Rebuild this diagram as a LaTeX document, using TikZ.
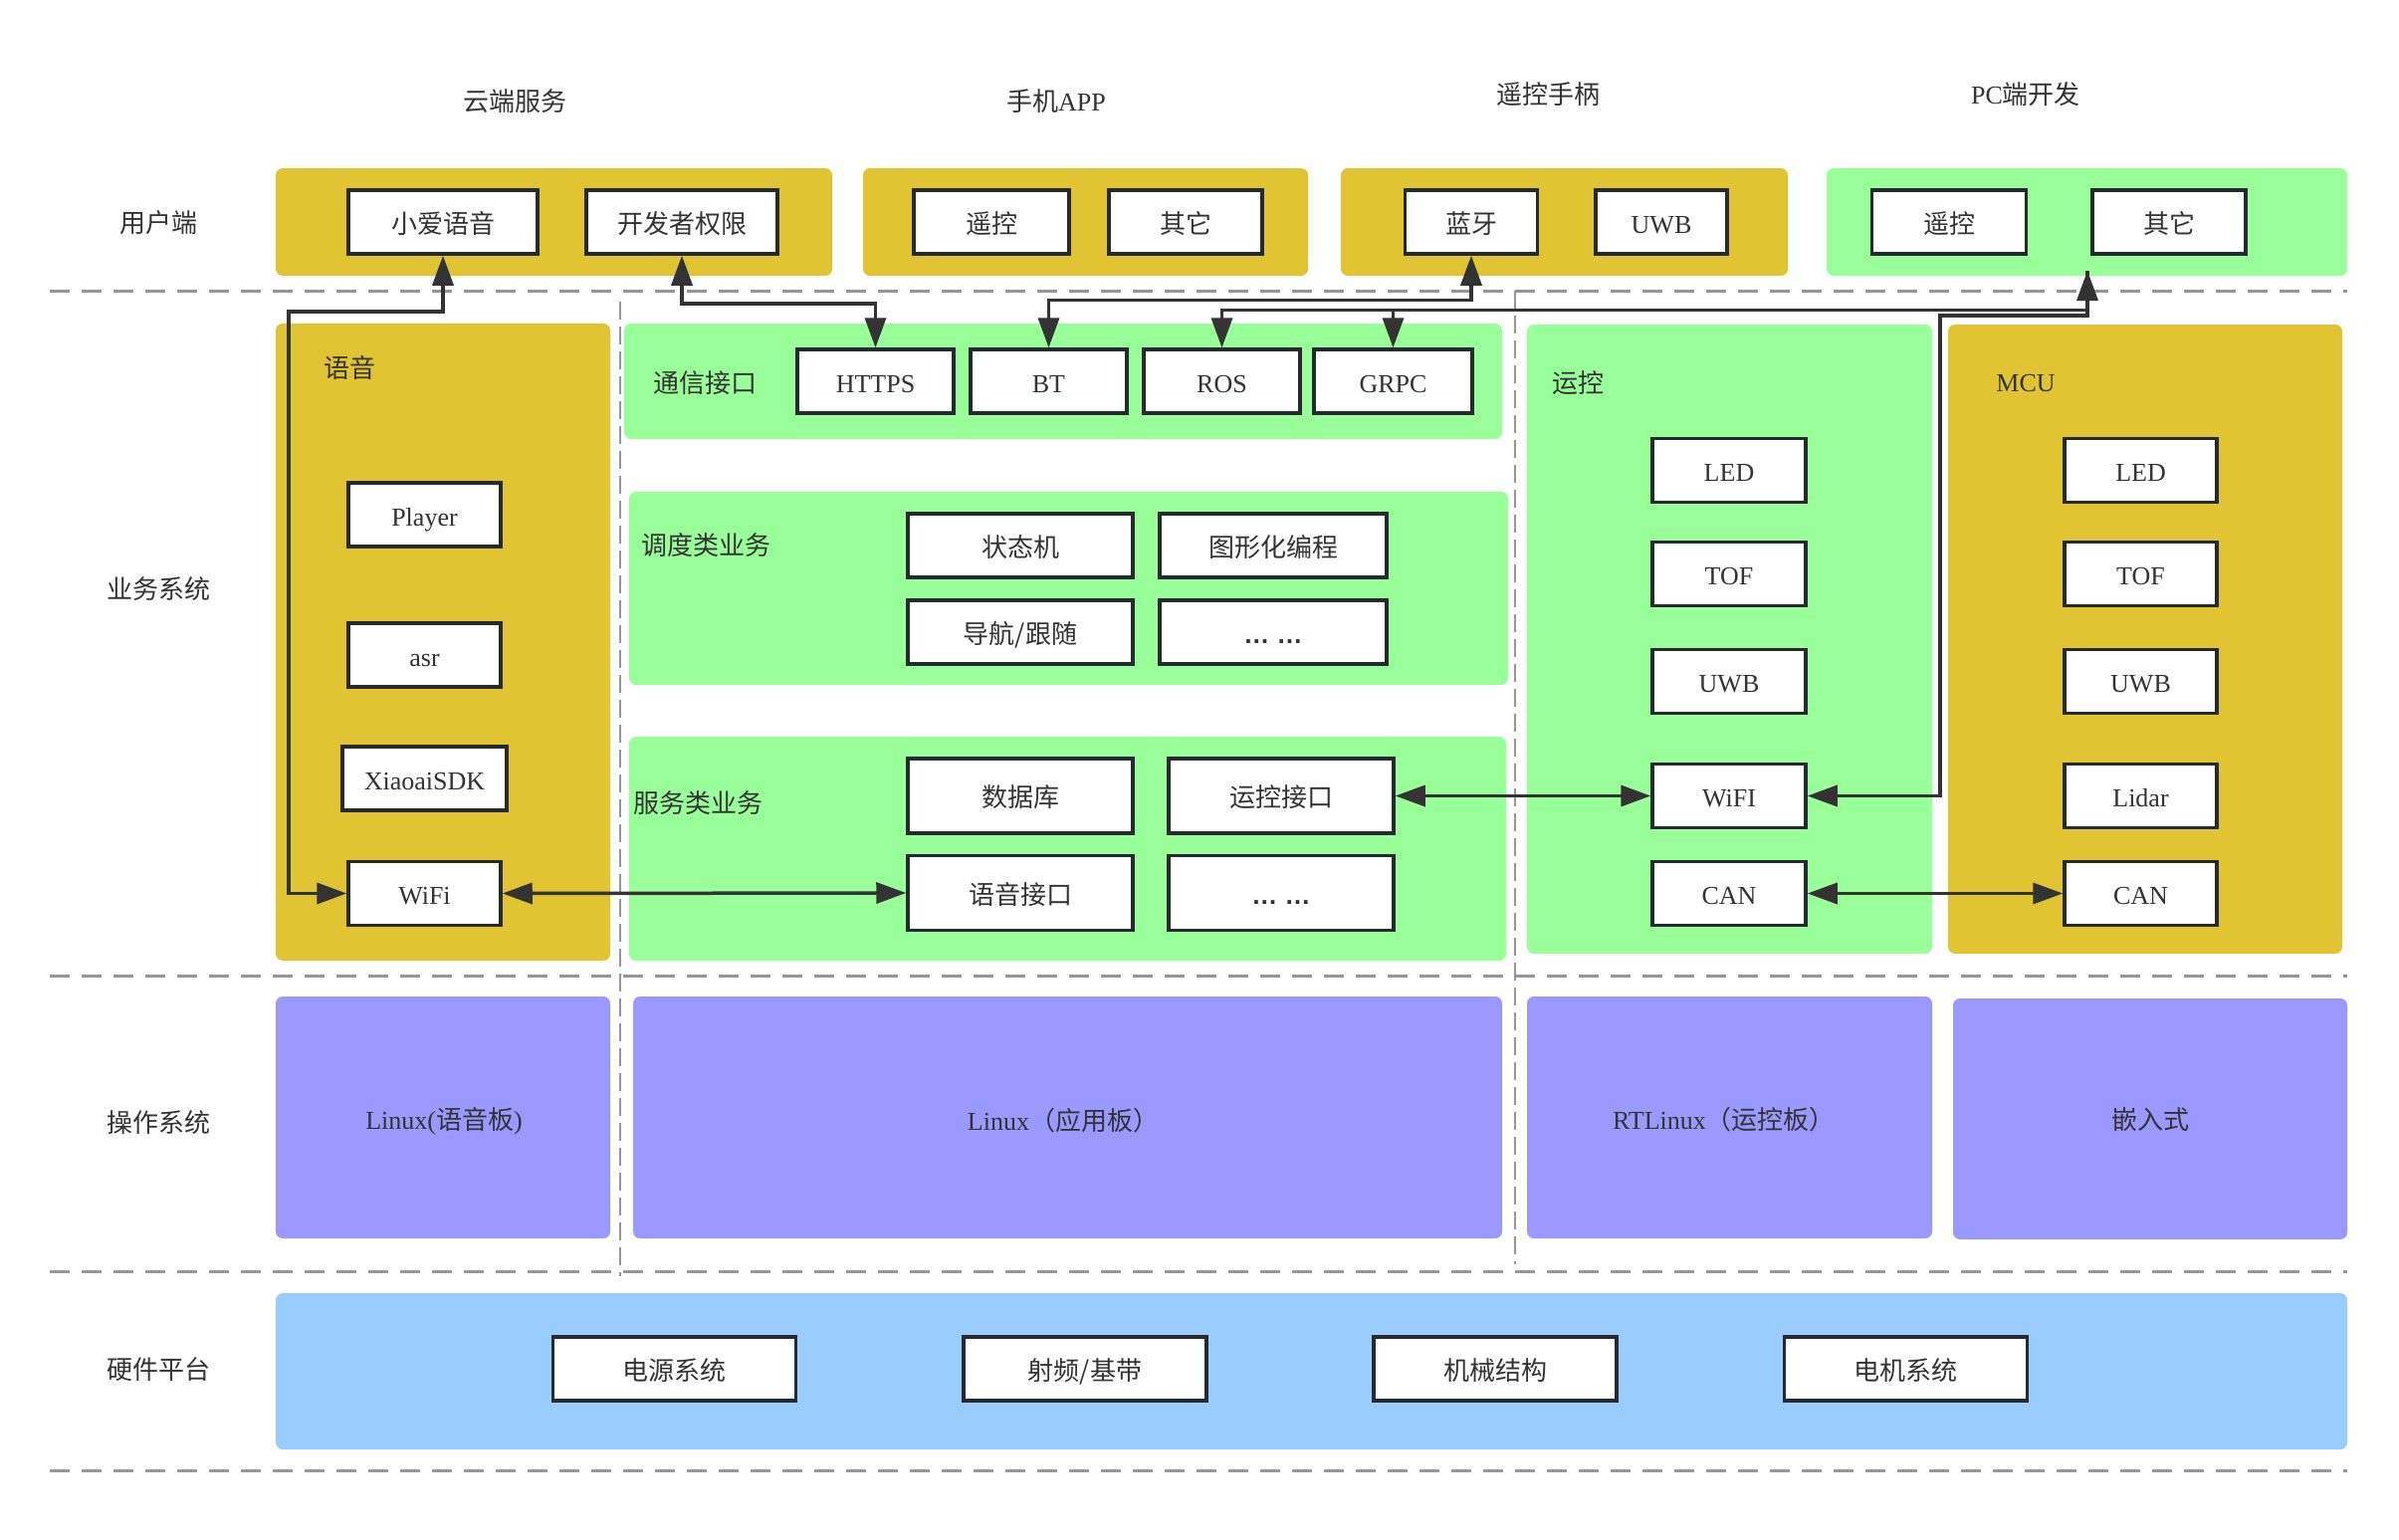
\documentclass[tikz,border=0pt]{standalone}
\usepackage{fontspec}
\setmainfont{Liberation Serif}
\newfontfamily\cjk{Noto Sans CJK SC}
\newfontfamily\sansf{Liberation Sans}
\usetikzlibrary{arrows.meta}
\definecolor{ylw}{RGB}{224,196,50}
\definecolor{grn}{RGB}{153,255,153}
\definecolor{prp}{RGB}{153,153,255}
\definecolor{blu}{RGB}{153,204,255}
\definecolor{bord}{RGB}{36,42,48}
\definecolor{txt}{RGB}{51,51,51}
\definecolor{dsh}{RGB}{150,150,150}
\definecolor{conn}{RGB}{51,51,51}
\newcommand{\dotsdots}{{\sansf\bfseries \char"2026\ \char"2026}}
\begin{document}
\begin{tikzpicture}[x=1pt,y=-1pt,
  panel/.style={rounded corners=7pt},
  wbox/.style={draw=bord, line width=3.5pt, fill=white, text=txt, inner sep=0pt, minimum height=64pt, text height=24pt, text depth=2pt, font=\fontsize{26}{31}\selectfont},
  lbl/.style={text=txt, inner sep=0pt, font=\fontsize{26}{31}\selectfont},
  sep/.style={draw=dsh, line width=3pt, dash pattern=on 20pt off 12pt},
  vsep/.style={draw=dsh, line width=2pt, dash pattern=on 18pt off 7pt},
  tip/.tip={Triangle[length=30pt,width=21pt]},
  link/.style={draw=conn, line width=3.5pt},
]
\fill[white] (0,0) rectangle (2410,1547);
\useasboundingbox (0,0) rectangle (2410,1547);

% separators
\draw[sep] (50,292) -- (2358,292);
\draw[sep] (50,980) -- (2358,980);
\draw[sep] (50,1277) -- (2358,1277);
\draw[sep] (50,1477) -- (2358,1477);
\draw[vsep] (623,303) -- (623,1282);
\draw[vsep] (1522,292) -- (1522,1270);

% column titles
\node[lbl] (t1) at (517,102) {\cjk 云端服务};
\node[lbl] (t2) at (1061,102) {{\cjk 手机}APP};
\node[lbl] (t3) at (1555,95) {\cjk 遥控手柄};
\node[lbl] (t4) at (2035,95) {PC{\cjk 端开发}};

% row titles
\node[lbl] (r1) at (159,224) {\cjk 用户端};
\node[lbl] (r2) at (159,592) {\cjk 业务系统};
\node[lbl] (r3) at (159,1128) {\cjk 操作系统};
\node[lbl] (r4) at (159,1376) {\cjk 硬件平台};

% user row panels
\fill[ylw, panel] (277,169) rectangle (836,277);
\fill[ylw, panel] (867,169) rectangle (1314,277);
\fill[ylw, panel] (1347,169) rectangle (1796,277);
\fill[grn, panel] (1835,169) rectangle (2358,277);

\node[wbox, minimum width=190pt] (xiaoai) at (445,223) {\cjk 小爱语音};
\node[wbox, minimum width=192pt] (dev) at (685,223) {\cjk 开发者权限};
\node[wbox, minimum width=156pt] (ykapp) at (996,223) {\cjk 遥控};
\node[wbox, minimum width=154pt] (qtapp) at (1191,223) {\cjk 其它};
\node[wbox, minimum width=133pt] (lanya) at (1478,223) {\cjk 蓝牙};
\node[wbox, minimum width=132pt] (uwbh) at (1669,223) {UWB};
\node[wbox, minimum width=155pt] (ykpc) at (1958,223) {\cjk 遥控};
\node[wbox, minimum width=154pt] (qtpc) at (2179,223) {\cjk 其它};

% business row panels
\fill[ylw, panel] (277,325) rectangle (613,965);
\fill[grn, panel] (627,325) rectangle (1509,441);
\fill[grn, panel] (632,494) rectangle (1515,688);
\fill[grn, panel] (632,740) rectangle (1513,965);
\fill[grn, panel] (1534,326) rectangle (1941,958);
\fill[ylw, panel] (1957,326) rectangle (2353,958);

\node[lbl, anchor=west] (lyy) at (325,370) {\cjk 语音};
\node[lbl, anchor=west] (ltx) at (656,385) {\cjk 通信接口};
\node[lbl, anchor=west] (ldd) at (644,548) {\cjk 调度类业务};
\node[lbl, anchor=west] (lfw) at (636,807) {\cjk 服务类业务};
\node[lbl, anchor=west] (lyk) at (1559,385) {\cjk 运控};
\node[lbl] (lmcu) at (2035,385) {MCU};

% voice
\node[wbox, minimum width=153pt] (player) at (426.5,517) {Player};
\node[wbox, minimum width=153pt] (asr) at (426.5,658) {asr};
\node[wbox, minimum width=165pt] (sdk) at (426.5,782) {XiaoaiSDK};
\node[wbox, minimum width=153pt] (wifiv) at (426.5,897.5) {WiFi};

% comm interface
\node[wbox, minimum width=157pt] (https) at (879.5,383) {HTTPS};
\node[wbox, minimum width=157pt] (bt) at (1053.5,383) {BT};
\node[wbox, minimum width=157pt] (ros) at (1227.5,383) {ROS};
\node[wbox, minimum width=159pt] (grpc) at (1399.5,383) {GRPC};

% scheduling
\node[wbox, minimum width=226pt] (fsm) at (1025,548) {\cjk 状态机};
\node[wbox, minimum width=228pt] (gfx) at (1279,548) {\cjk 图形化编程};
\node[wbox, minimum width=226pt] (nav) at (1025,635) {\cjk 导航/跟随};
\node[wbox, minimum width=228pt] (etc1) at (1279,635) {\dotsdots};

% service
\node[wbox, minimum width=226pt, minimum height=75pt] (db) at (1025,799.5) {\cjk 数据库};
\node[wbox, minimum width=226pt, minimum height=75pt] (ykjk) at (1287,799.5) {\cjk 运控接口};
\node[wbox, minimum width=226pt, minimum height=75pt] (yyjk) at (1025,897) {\cjk 语音接口};
\node[wbox, minimum width=226pt, minimum height=75pt] (etc2) at (1287,897) {\dotsdots};

% motion control
\node[wbox, minimum width=154pt] (yled) at (1737,472.5) {LED};
\node[wbox, minimum width=154pt] (ytof) at (1737,576.5) {TOF};
\node[wbox, minimum width=154pt] (yuwb) at (1737,684.5) {UWB};
\node[wbox, minimum width=154pt] (ywifi) at (1737,799.5) {WiFI};
\node[wbox, minimum width=154pt] (ycan) at (1737,897.5) {CAN};

% MCU
\node[wbox, minimum width=153pt] (mled) at (2150.5,472.5) {LED};
\node[wbox, minimum width=153pt] (mtof) at (2150.5,576.5) {TOF};
\node[wbox, minimum width=153pt] (muwb) at (2150.5,684.5) {UWB};
\node[wbox, minimum width=153pt] (mlidar) at (2150.5,799.5) {Lidar};
\node[wbox, minimum width=153pt] (mcan) at (2150.5,897.5) {CAN};

% OS row
\fill[prp, panel] (277,1001) rectangle (613,1244);
\fill[prp, panel] (636,1001) rectangle (1509,1244);
\fill[prp, panel] (1534,1001) rectangle (1941,1244);
\fill[prp, panel] (1962,1003) rectangle (2358,1245);
\node[lbl] (os1) at (446,1126) {Linux({\cjk 语音板})};
\node[lbl] (os2) at (1068,1126) {Linux{\cjk （应用板）}};
\node[lbl] (os3) at (1732,1125) {RTLinux{\cjk （运控板）}};
\node[lbl] (os4) at (2160,1125) {\cjk 嵌入式};

% hardware row
\fill[blu, panel] (277,1299) rectangle (2358,1456);
\node[wbox, minimum width=244pt] (hw1) at (677.5,1375) {\cjk 电源系统};
\node[wbox, minimum width=244pt] (hw2) at (1090,1375) {\cjk 射频/基带};
\node[wbox, minimum width=244pt] (hw3) at (1502,1375) {\cjk 机械结构};
\node[wbox, minimum width=244pt] (hw4) at (1914.5,1375) {\cjk 电机系统};

% connectors
\coordinate (jv) at (290,313);
\coordinate (pcin) at (2097,272);
\coordinate (jw) at (1949,317);
\draw[link, tip-tip] (xiaoai.south) |- (jv) |- (wifiv.west);
\draw[link, tip-tip] (dev.south) -- ++(0,48) -| (https.north);
\draw[link, tip-tip] (bt.north) -- ++(0,-48) -| (lanya.south);
\draw[link, tip-tip] (ros.north) -- ++(0,-38) -| (pcin);
\draw[link, tip-] (grpc.north) -- ++(0,-38);
\draw[link, tip-] (ywifi.east) -| (jw) -| (pcin);
\draw[link, tip-tip] (wifiv.east) -- (yyjk.west);
\draw[link, tip-tip] (ykjk.east) -- (ywifi.west);
\draw[link, tip-tip] (ycan.east) -- (mcan.west);
\end{tikzpicture}
\end{document}
